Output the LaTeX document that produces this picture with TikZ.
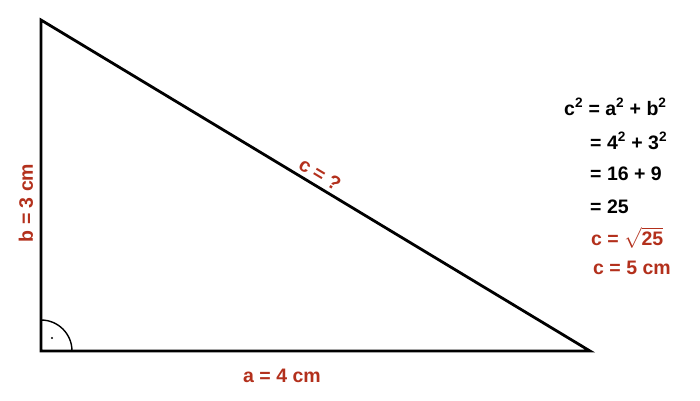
\documentclass[tikz,border=0pt]{standalone}
\usepackage{fontspec}
\setmainfont{Liberation Sans}
\usepackage{tikz}
\usetikzlibrary{calc}
\definecolor{darkred}{HTML}{B3301C}
\newcommand{\sqd}{\textsuperscript{2}}
\tikzset{lbl/.style={font=\bfseries\fontsize{19.5}{22}\selectfont},
  redlbl/.style={lbl,text=darkred},
  eq/.style={lbl,anchor=west,inner sep=0pt}}

\begin{document}
\begin{tikzpicture}[x=1pt,y=-1pt]
  \useasboundingbox (0,0) rectangle (700,400);
  \coordinate (C) at (41,20); \coordinate (O) at (41,351); \coordinate (B) at (590,351);
  \draw[line width=2.8pt,line join=miter] (C) -- (O) -- (B) -- cycle;
  \draw[line width=1.4pt] ($(O)+(31,0)$) arc[start angle=0,end angle=-90,radius=31];
  \fill (52,338) circle (1.2);
  \node[redlbl] (a) at (282,376) {a = 4 cm};
  \node[redlbl,rotate=90] (b) at (26,203) {b = 3 cm};
  \node[redlbl,rotate=-31.1,inner sep=0pt] (c) at (320,174) {c = ?};
  % calculation
  \node[eq] (e1) at (564,107) {c\sqd{} = a\sqd{} + b\sqd};
  \node[eq] (e2) at (590,141) {= 4\sqd{} + 3\sqd};
  \node[eq] (e3) at (590,174) {= 16 + 9};
  \node[eq] (e4) at (590,207) {= 25};
  \node[eq,text=darkred] (e5) at (591,238) {c = $\sqrt{\hbox{25}}$};
  \node[eq,text=darkred] (e6) at (593,268) {c = 5 cm};
\end{tikzpicture}
\end{document}
